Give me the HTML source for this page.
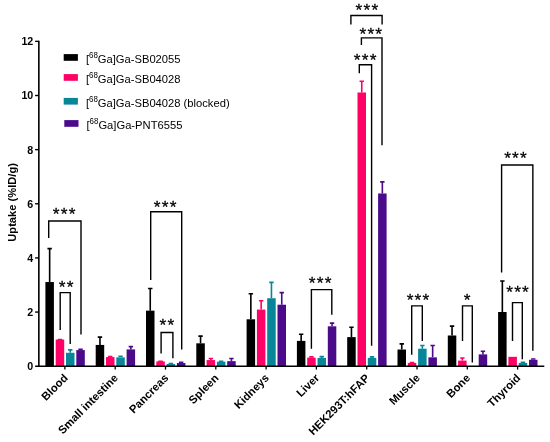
<!DOCTYPE html>
<html><head><meta charset="utf-8"><title>Uptake chart</title>
<style>html,body{margin:0;padding:0;background:#fff}svg{display:block}</style>
</head><body>
<svg width="550" height="442" viewBox="0 0 550 442">
<rect width="550" height="442" fill="#fff"/>
<path d="M49.65 282.03V248.01M47.45 248.61H51.85" stroke="#000000" stroke-width="1.6" fill="none"/>
<rect x="45.40" y="282.03" width="8.5" height="84.17" fill="#000000"/>
<path d="M59.95 339.54V339.00M57.75 339.60H62.15" stroke="#ff0066" stroke-width="1.6" fill="none"/>
<rect x="55.70" y="339.54" width="8.5" height="26.66" fill="#ff0066"/>
<path d="M70.25 352.77V349.26M68.05 349.86H72.45" stroke="#078599" stroke-width="1.6" fill="none"/>
<rect x="66.00" y="352.77" width="8.5" height="13.43" fill="#078599"/>
<path d="M80.55 350.07V348.72M78.35 349.32H82.75" stroke="#4b0a8a" stroke-width="1.6" fill="none"/>
<rect x="76.30" y="350.07" width="8.5" height="16.13" fill="#4b0a8a"/>
<path d="M99.95 344.94V336.57M97.75 337.17H102.15" stroke="#000000" stroke-width="1.6" fill="none"/>
<rect x="95.70" y="344.94" width="8.5" height="21.26" fill="#000000"/>
<path d="M110.25 357.09V356.01M108.05 356.61H112.45" stroke="#ff0066" stroke-width="1.6" fill="none"/>
<rect x="106.00" y="357.09" width="8.5" height="9.11" fill="#ff0066"/>
<path d="M120.55 357.36V355.61M118.35 356.21H122.75" stroke="#078599" stroke-width="1.6" fill="none"/>
<rect x="116.30" y="357.36" width="8.5" height="8.84" fill="#078599"/>
<path d="M130.85 349.39V346.02M128.65 346.62H133.05" stroke="#4b0a8a" stroke-width="1.6" fill="none"/>
<rect x="126.60" y="349.39" width="8.5" height="16.81" fill="#4b0a8a"/>
<path d="M150.25 310.65V287.97M148.05 288.57H152.45" stroke="#000000" stroke-width="1.6" fill="none"/>
<rect x="146.00" y="310.65" width="8.5" height="55.55" fill="#000000"/>
<path d="M160.55 361.41V360.60M158.35 361.20H162.75" stroke="#ff0066" stroke-width="1.6" fill="none"/>
<rect x="156.30" y="361.41" width="8.5" height="4.79" fill="#ff0066"/>
<path d="M170.85 363.98V363.03M168.65 363.63H173.05" stroke="#078599" stroke-width="1.6" fill="none"/>
<rect x="166.60" y="363.98" width="8.5" height="2.22" fill="#078599"/>
<path d="M181.15 363.03V361.68M178.95 362.28H183.35" stroke="#4b0a8a" stroke-width="1.6" fill="none"/>
<rect x="176.90" y="363.03" width="8.5" height="3.17" fill="#4b0a8a"/>
<path d="M200.55 343.32V335.49M198.35 336.09H202.75" stroke="#000000" stroke-width="1.6" fill="none"/>
<rect x="196.30" y="343.32" width="8.5" height="22.88" fill="#000000"/>
<path d="M210.85 360.06V357.90M208.65 358.50H213.05" stroke="#ff0066" stroke-width="1.6" fill="none"/>
<rect x="206.60" y="360.06" width="8.5" height="6.14" fill="#ff0066"/>
<path d="M221.15 361.68V360.60M218.95 361.20H223.35" stroke="#078599" stroke-width="1.6" fill="none"/>
<rect x="216.90" y="361.68" width="8.5" height="4.52" fill="#078599"/>
<path d="M231.45 361.14V357.90M229.25 358.50H233.65" stroke="#4b0a8a" stroke-width="1.6" fill="none"/>
<rect x="227.20" y="361.14" width="8.5" height="5.06" fill="#4b0a8a"/>
<path d="M250.85 319.29V293.10M248.65 293.70H253.05" stroke="#000000" stroke-width="1.6" fill="none"/>
<rect x="246.60" y="319.29" width="8.5" height="46.91" fill="#000000"/>
<path d="M261.15 309.57V300.12M258.95 300.72H263.35" stroke="#ff0066" stroke-width="1.6" fill="none"/>
<rect x="256.90" y="309.57" width="8.5" height="56.63" fill="#ff0066"/>
<path d="M271.45 298.23V281.76M269.25 282.36H273.65" stroke="#078599" stroke-width="1.6" fill="none"/>
<rect x="267.20" y="298.23" width="8.5" height="67.97" fill="#078599"/>
<path d="M281.75 304.71V292.02M279.55 292.62H283.95" stroke="#4b0a8a" stroke-width="1.6" fill="none"/>
<rect x="277.50" y="304.71" width="8.5" height="61.49" fill="#4b0a8a"/>
<path d="M301.15 340.89V333.60M298.95 334.20H303.35" stroke="#000000" stroke-width="1.6" fill="none"/>
<rect x="296.90" y="340.89" width="8.5" height="25.31" fill="#000000"/>
<path d="M311.45 357.63V356.28M309.25 356.88H313.65" stroke="#ff0066" stroke-width="1.6" fill="none"/>
<rect x="307.20" y="357.63" width="8.5" height="8.57" fill="#ff0066"/>
<path d="M321.75 357.90V356.01M319.55 356.61H323.95" stroke="#078599" stroke-width="1.6" fill="none"/>
<rect x="317.50" y="357.90" width="8.5" height="8.30" fill="#078599"/>
<path d="M332.05 326.31V322.53M329.85 323.13H334.25" stroke="#4b0a8a" stroke-width="1.6" fill="none"/>
<rect x="327.80" y="326.31" width="8.5" height="39.89" fill="#4b0a8a"/>
<path d="M351.45 337.11V326.71M349.25 327.31H353.65" stroke="#000000" stroke-width="1.6" fill="none"/>
<rect x="347.20" y="337.11" width="8.5" height="29.09" fill="#000000"/>
<path d="M361.75 92.49V80.61M359.55 81.21H363.95" stroke="#ff0066" stroke-width="1.6" fill="none"/>
<rect x="357.50" y="92.49" width="8.5" height="273.71" fill="#ff0066"/>
<path d="M372.05 357.90V356.28M369.85 356.88H374.25" stroke="#078599" stroke-width="1.6" fill="none"/>
<rect x="367.80" y="357.90" width="8.5" height="8.30" fill="#078599"/>
<path d="M382.35 193.47V181.32M380.15 181.92H384.55" stroke="#4b0a8a" stroke-width="1.6" fill="none"/>
<rect x="378.10" y="193.47" width="8.5" height="172.73" fill="#4b0a8a"/>
<path d="M401.75 349.53V343.32M399.55 343.92H403.95" stroke="#000000" stroke-width="1.6" fill="none"/>
<rect x="397.50" y="349.53" width="8.5" height="16.67" fill="#000000"/>
<path d="M412.05 362.89V361.95M409.85 362.55H414.25" stroke="#ff0066" stroke-width="1.6" fill="none"/>
<rect x="407.80" y="362.89" width="8.5" height="3.31" fill="#ff0066"/>
<path d="M422.35 348.72V344.94M420.15 345.54H424.55" stroke="#078599" stroke-width="1.6" fill="none"/>
<rect x="418.10" y="348.72" width="8.5" height="17.48" fill="#078599"/>
<path d="M432.65 357.36V344.94M430.45 345.54H434.85" stroke="#4b0a8a" stroke-width="1.6" fill="none"/>
<rect x="428.40" y="357.36" width="8.5" height="8.84" fill="#4b0a8a"/>
<path d="M452.05 335.49V325.50M449.85 326.10H454.25" stroke="#000000" stroke-width="1.6" fill="none"/>
<rect x="447.80" y="335.49" width="8.5" height="30.71" fill="#000000"/>
<path d="M462.35 360.60V357.36M460.15 357.96H464.55" stroke="#ff0066" stroke-width="1.6" fill="none"/>
<rect x="458.10" y="360.60" width="8.5" height="5.60" fill="#ff0066"/>
<path d="M482.95 354.39V350.61M480.75 351.21H485.15" stroke="#4b0a8a" stroke-width="1.6" fill="none"/>
<rect x="478.70" y="354.39" width="8.5" height="11.81" fill="#4b0a8a"/>
<path d="M502.35 312.00V280.41M500.15 281.01H504.55" stroke="#000000" stroke-width="1.6" fill="none"/>
<rect x="498.10" y="312.00" width="8.5" height="54.20" fill="#000000"/>
<rect x="508.40" y="356.82" width="8.5" height="9.38" fill="#ff0066"/>
<path d="M522.95 362.89V361.68M520.75 362.28H525.15" stroke="#078599" stroke-width="1.6" fill="none"/>
<rect x="518.70" y="362.89" width="8.5" height="3.31" fill="#078599"/>
<path d="M533.25 359.79V358.44M531.05 359.04H535.45" stroke="#4b0a8a" stroke-width="1.6" fill="none"/>
<rect x="529.00" y="359.79" width="8.5" height="6.41" fill="#4b0a8a"/>
<path d="M38.85 40.85V366.2" stroke="#000" stroke-width="1.6" fill="none"/>
<path d="M35.1 366.2H544.3" stroke="#000" stroke-width="1.6" fill="none"/>
<path d="M35.1 312.06H38.85" stroke="#000" stroke-width="1.4"/>
<path d="M35.1 257.92H38.85" stroke="#000" stroke-width="1.4"/>
<path d="M35.1 203.78H38.85" stroke="#000" stroke-width="1.4"/>
<path d="M35.1 149.64H38.85" stroke="#000" stroke-width="1.4"/>
<path d="M35.1 95.50H38.85" stroke="#000" stroke-width="1.4"/>
<path d="M35.1 41.36H38.85" stroke="#000" stroke-width="1.4"/>
<path d="M64.90 366.2V369.6" stroke="#000" stroke-width="1.3"/>
<path d="M115.20 366.2V369.6" stroke="#000" stroke-width="1.3"/>
<path d="M165.50 366.2V369.6" stroke="#000" stroke-width="1.3"/>
<path d="M215.80 366.2V369.6" stroke="#000" stroke-width="1.3"/>
<path d="M266.10 366.2V369.6" stroke="#000" stroke-width="1.3"/>
<path d="M316.40 366.2V369.6" stroke="#000" stroke-width="1.3"/>
<path d="M366.70 366.2V369.6" stroke="#000" stroke-width="1.3"/>
<path d="M417.00 366.2V369.6" stroke="#000" stroke-width="1.3"/>
<path d="M467.30 366.2V369.6" stroke="#000" stroke-width="1.3"/>
<path d="M517.60 366.2V369.6" stroke="#000" stroke-width="1.3"/>
<g font-family="Liberation Sans, Arial, sans-serif" font-weight="bold" font-size="10.7" fill="#000">
<text x="33.3" y="370" text-anchor="end">0</text>
<text x="33.3" y="316" text-anchor="end">2</text>
<text x="33.3" y="262" text-anchor="end">4</text>
<text x="33.3" y="208" text-anchor="end">6</text>
<text x="33.3" y="154" text-anchor="end">8</text>
<text x="33.3" y="99" text-anchor="end">10</text>
<text x="33.3" y="45" text-anchor="end">12</text>
<text transform="translate(68.50 378.6) rotate(-45)" text-anchor="end" font-size="11.25">Blood</text>
<text transform="translate(118.80 378.6) rotate(-45)" text-anchor="end" font-size="11.25">Small intestine</text>
<text transform="translate(169.10 378.6) rotate(-45)" text-anchor="end" font-size="11.25">Pancreas</text>
<text transform="translate(219.40 378.6) rotate(-45)" text-anchor="end" font-size="11.25">Spleen</text>
<text transform="translate(269.70 378.6) rotate(-45)" text-anchor="end" font-size="11.25">Kidneys</text>
<text transform="translate(320.00 378.6) rotate(-45)" text-anchor="end" font-size="11.25">Liver</text>
<text transform="translate(370.30 378.6) rotate(-45)" text-anchor="end" font-size="11.25">HEK293T:hFAP</text>
<text transform="translate(420.60 378.6) rotate(-45)" text-anchor="end" font-size="11.25">Muscle</text>
<text transform="translate(470.90 378.6) rotate(-45)" text-anchor="end" font-size="11.25">Bone</text>
<text transform="translate(521.20 378.6) rotate(-45)" text-anchor="end" font-size="11.25">Thyroid</text>
<text transform="translate(16.2 202.4) rotate(-90)" text-anchor="middle" font-size="11.15">Uptake (%ID/g)</text>
</g>
<g font-family="Liberation Sans, Arial, sans-serif" font-size="11.2" fill="#000">
<rect x="63.70" y="54.10" width="14.2" height="6.7" fill="#000000"/>
<text x="85.90" y="63">[<tspan font-size="8.5" dy="-5.3" textLength="8.8" lengthAdjust="spacingAndGlyphs">68</tspan><tspan dy="5.3">Ga]Ga-SB02055</tspan></text>
<rect x="63.70" y="74.10" width="14.2" height="6.7" fill="#ff0066"/>
<text x="85.90" y="83">[<tspan font-size="8.5" dy="-5.3" textLength="8.8" lengthAdjust="spacingAndGlyphs">68</tspan><tspan dy="5.3">Ga]Ga-SB04028</tspan></text>
<rect x="63.70" y="97.90" width="14.2" height="6.7" fill="#078599"/>
<text x="85.90" y="107">[<tspan font-size="8.5" dy="-5.3" textLength="8.8" lengthAdjust="spacingAndGlyphs">68</tspan><tspan dy="5.3">Ga]Ga-SB04028 (blocked)</tspan></text>
<rect x="64.30" y="120.10" width="14.2" height="6.7" fill="#4b0a8a"/>
<text x="86.50" y="129">[<tspan font-size="8.5" dy="-5.3" textLength="8.8" lengthAdjust="spacingAndGlyphs">68</tspan><tspan dy="5.3">Ga]Ga-PNT6555</tspan></text>
</g>
<g font-family="Liberation Sans, Arial, sans-serif" font-size="17.3" letter-spacing="1.2" fill="#000" text-anchor="middle" stroke="#000" stroke-width="0.28">
<path d="M48.7 238V221.0H81.0V334.4" stroke="#000" stroke-width="1.4" fill="none" stroke-linejoin="miter"/>
<text x="64.70" y="219.70">***</text>
<path d="M60.2 330V292.6H70.2V344" stroke="#000" stroke-width="1.4" fill="none" stroke-linejoin="miter"/>
<text x="66.65" y="293.00">**</text>
<path d="M150.7 280V211.75H181.7V349.5" stroke="#000" stroke-width="1.4" fill="none" stroke-linejoin="miter"/>
<text x="165.75" y="213.10">***</text>
<path d="M161.1 353.6V332.5H172.9V358.3" stroke="#000" stroke-width="1.4" fill="none" stroke-linejoin="miter"/>
<text x="167.45" y="331.20">**</text>
<path d="M311.4 348.7V289.6H331.8V314.7" stroke="#000" stroke-width="1.4" fill="none" stroke-linejoin="miter"/>
<text x="320.75" y="289.30">***</text>
<path d="M350.9 24.5V15.45H382.1V24.5" stroke="#000" stroke-width="1.4" fill="none" stroke-linejoin="miter"/>
<text x="367.45" y="16.10">***</text>
<path d="M361.4 44.9V37.9H382.0V145.2" stroke="#000" stroke-width="1.4" fill="none" stroke-linejoin="miter"/>
<text x="371.35" y="39.70">***</text>
<path d="M359.3 73.3V64.8H371.6V345.8" stroke="#000" stroke-width="1.4" fill="none" stroke-linejoin="miter"/>
<text x="365.75" y="66.10">***</text>
<path d="M411.7 354.8V305.9H422.3V341" stroke="#000" stroke-width="1.4" fill="none" stroke-linejoin="miter"/>
<text x="418.55" y="305.50">***</text>
<path d="M462.5 341V305.9H472.3V362.4" stroke="#000" stroke-width="1.4" fill="none" stroke-linejoin="miter"/>
<text x="467.65" y="305.50">*</text>
<path d="M501.6 272.4V165.0H532.85V350.7" stroke="#000" stroke-width="1.4" fill="none" stroke-linejoin="miter"/>
<text x="516.05" y="164.40">***</text>
<path d="M512.5 340.9V302.6H522.3V359.2" stroke="#000" stroke-width="1.4" fill="none" stroke-linejoin="miter"/>
<text x="518.15" y="297.90">***</text>
</g>
</svg>
</body></html>
